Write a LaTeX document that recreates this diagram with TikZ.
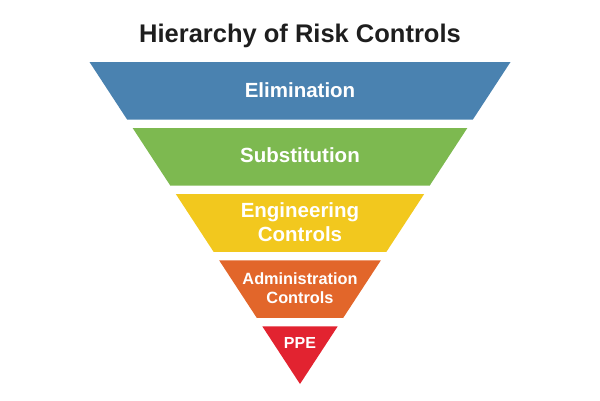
\documentclass[tikz,border=0pt]{standalone}
\usepackage{fontspec}
\setmainfont{Liberation Sans}
\usetikzlibrary{calc}
\definecolor{elimblue}{RGB}{74,130,176}
\definecolor{substgreen}{RGB}{125,185,80}
\definecolor{enggold}{RGB}{242,200,30}
\definecolor{adminorange}{RGB}{226,102,42}
\definecolor{ppered}{RGB}{226,35,48}
\definecolor{titlegray}{RGB}{30,30,30}
\tikzset{
  band label/.style={text=white, align=center, inner sep=0pt},
  title label/.style={text=titlegray, inner sep=0pt, font=\bfseries\fontsize{25.5}{30}\selectfont}
}
\begin{document}
\begin{tikzpicture}[x=1pt, y=-1pt]
  \useasboundingbox (0,0) rectangle (600,400);
  \coordinate (apex) at (300,384);
  \coordinate (topL) at (89.5,62);
  \coordinate (topR) at (510.5,62);
  % five bands cut from one triangle
  \foreach \i/\col in {0/elimblue, 1/substgreen, 2/enggold, 3/adminorange, 4/ppered} {
    \pgfmathsetmacro\ta{(\i*66.1)/322}
    \pgfmathsetmacro\tb{min(1,(\i*66.1+57.6)/322)}
    \fill[\col] ($(topL)!\ta!(apex)$) -- ($(topR)!\ta!(apex)$)
      -- ($(topR)!\tb!(apex)$) -- ($(topL)!\tb!(apex)$) -- cycle;
  }
  \node[title label] (title) at (300,35.5) {Hierarchy of Risk Controls};
  \node[band label, font=\bfseries\fontsize{20.5}{24}\selectfont] (elim) at (300,90) {Elimination};
  \node[band label, font=\bfseries\fontsize{20.5}{24}\selectfont] (subst) at (300,155) {Substitution};
  \node[band label, font=\bfseries\fontsize{20.5}{24}\selectfont] (eng) at (300,222.6) {Engineering\\Controls};
  \node[band label, font=\bfseries\fontsize{16.3}{18.5}\selectfont] (admin) at (300,288.4) {Administration\\Controls};
  \node[band label, font=\bfseries\fontsize{16}{19}\selectfont] (ppe) at (300,342.5) {PPE};
\end{tikzpicture}
\end{document}
